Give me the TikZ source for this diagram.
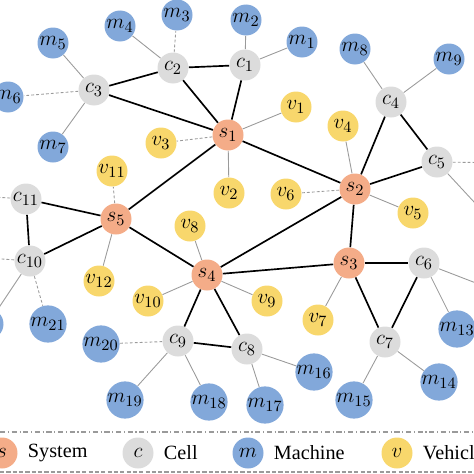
\documentclass[tikz,border=0pt]{standalone}
\usepackage{fontspec}
\setmainfont{Liberation Serif}
\usetikzlibrary{positioning}
\definecolor{sysOrange}{HTML}{F4AC88}
\definecolor{cellGray}{HTML}{DCDCDC}
\definecolor{machBlue}{HTML}{82A8DA}
\definecolor{vehYellow}{HTML}{F8D76C}
\definecolor{netGray}{HTML}{9A9A9A}
\tikzset{
  % Node kinds: one fill per level, no outline.
  net/node/.style={
    circle, draw=none, minimum size=6.2mm, inner sep=0pt,
    font=\fontsize{13}{14}\selectfont
  },
  net/sys/.style={net/node, fill=sysOrange},
  net/cell/.style={net/node, fill=cellGray},
  net/mach/.style={net/node, fill=machBlue},
  net/veh/.style={net/node, fill=vehYellow},
  % Links. Black between systems and cells, thin grey out to the leaves.
  net/link/.style={draw=black, line width=0.95pt},
  net/leaf/.style={draw=netGray, line width=0.5pt},
  net/leafD/.style={net/leaf, dash pattern=on 1.6pt off 1.2pt},
  % Legend text.
  net/key/.style={font=\fontsize{11.5}{13}\selectfont, inner sep=1pt},
}

\begin{document}
\begin{tikzpicture}[x=0.2mm,y=-0.2mm]
  \useasboundingbox (0,0) rectangle (474,474);
  \clip (0,0) rectangle (474,474);
  % systems
  \node[net/sys] (s1) at (228,135) {$s_1$};
  \node[net/sys] (s2) at (355,189) {$s_2$};
  \node[net/sys] (s3) at (349,263) {$s_3$};
  \node[net/sys] (s4) at (207,275) {$s_4$};
  \node[net/sys] (s5) at (116,219) {$s_5$};
  % cells
  \node[net/cell] (c1)  at (245,65)  {$c_1$};
  \node[net/cell] (c2)  at (173,68)  {$c_2$};
  \node[net/cell] (c3)  at (94,90)   {$c_3$};
  \node[net/cell] (c4)  at (391,102) {$c_4$};
  \node[net/cell] (c5)  at (437,162) {$c_5$};
  \node[net/cell] (c6)  at (424,263) {$c_6$};
  \node[net/cell] (c7)  at (385,342) {$c_7$};
  \node[net/cell] (c8)  at (247,349) {$c_8$};
  \node[net/cell] (c9)  at (178,341) {$c_9$};
  \node[net/cell] (c10) at (30,261)  {$c_{10}$};
  \node[net/cell] (c11) at (26,199)  {$c_{11}$};
  % machines
  \node[net/mach] (m1)  at (302,42)  {$m_1$};
  \node[net/mach] (m2)  at (246,20)  {$m_2$};
  \node[net/mach] (m3)  at (177,15)  {$m_3$};
  \node[net/mach] (m4)  at (120,26)  {$m_4$};
  \node[net/mach] (m5)  at (53,43)   {$m_5$};
  \node[net/mach] (m6)  at (8,97)    {$m_6$};
  \node[net/mach] (m7)  at (53,147)  {$m_7$};
  \node[net/mach] (m8)  at (355,49)  {$m_8$};
  \node[net/mach] (m9)  at (449,59)  {$m_9$};
  \node[net/mach] (m13) at (457,329) {$m_{13}$};
  \node[net/mach] (m14) at (439,382) {$m_{14}$};
  \node[net/mach] (m15) at (354,400) {$m_{15}$};
  \node[net/mach] (m16) at (314,372) {$m_{16}$};
  \node[net/mach] (m17) at (265,405) {$m_{17}$};
  \node[net/mach] (m18) at (209,402) {$m_{18}$};
  \node[net/mach] (m19) at (125,400) {$m_{19}$};
  \node[net/mach] (m20) at (101,344) {$m_{20}$};
  \node[net/mach] (m21) at (48,324)  {$m_{21}$};
  \node[net/mach] (m22) at (-12,324) {};
  % vehicles
  \node[net/veh] (v1)  at (296,107) {$v_1$};
  \node[net/veh] (v2)  at (229,193) {$v_2$};
  \node[net/veh] (v3)  at (161,143) {$v_3$};
  \node[net/veh] (v4)  at (343,126) {$v_4$};
  \node[net/veh] (v5)  at (413,213) {$v_5$};
  \node[net/veh] (v6)  at (286,194) {$v_6$};
  \node[net/veh] (v7)  at (318,320) {$v_7$};
  \node[net/veh] (v8)  at (190,226) {$v_8$};
  \node[net/veh] (v9)  at (267,301) {$v_9$};
  \node[net/veh] (v10) at (148,301) {$v_{10}$};
  \node[net/veh] (v11) at (112,171) {$v_{11}$};
  \node[net/veh] (v12) at (99,281)  {$v_{12}$};
  % ends running out of the frame
  \coordinate (x1) at (-40,195);
  \coordinate (x2) at (-40,256);
  \coordinate (x3) at (520,163);
  \coordinate (x4) at (500,230);
  \coordinate (x5) at (520,300);
  % links
  \foreach \a/\b in {c1/c2,c2/c3,c2/s1,c1/s1,c3/s1,s1/s5,s1/s2,s2/c4,s2/c5,c4/c5,
                     s2/s4,s2/s3,s4/s3,s4/s5,s5/c11,s5/c10,c11/c10,s4/c9,s4/c8,
                     c9/c8,s3/c6,s3/c7,c6/c7}
    {\draw[net/link] (\a) -- (\b);}
  \foreach \a/\b in {c3/m5,c3/m7,c2/m4,c1/m1,c1/m2,s1/v1,s1/v2,s2/v4,s2/v5,c4/m8,
                     c4/m9,s4/v8,s4/v10,s4/v9,s5/v12,s3/v7,c9/m19,c9/m18,c8/m16,
                     c8/m17,c6/m13,c7/m14,c7/m15,c10/m22,c5/x4,c6/x5}
    {\draw[net/leaf] (\a) -- (\b);}
  \foreach \a/\b in {c3/m6,c2/m3,s1/v3,s5/v11,s2/v6,c9/m20,c10/m21,c11/x1,c10/x2,c5/x3}
    {\draw[net/leafD] (\a) -- (\b);}
  % legend
  \coordinate (la) at (0,432);  \coordinate (lb) at (474,432);
  \coordinate (lc) at (0,472);  \coordinate (ld) at (474,472);
  \draw[netGray, line width=0.6pt, dash pattern=on 3pt off 1.5pt on 0.6pt off 1.5pt] (la) -- (lb);
  \draw[netGray, line width=1.5pt, dash pattern=on 2.4pt off 1.2pt] (lc) -- (ld);
  \node[net/sys]  (ks) at (2,453)   {$s$};
  \node[net/key, right=1.6mm of ks] (ksT) {System};
  \node[net/cell] (kc) at (138,453) {$c$};
  \node[net/key, right=1.6mm of kc] (kcT) {Cell};
  \node[net/mach] (km) at (248,453) {$m$};
  \node[net/key, right=1.6mm of km] (kmT) {Machine};
  \node[net/veh]  (kv) at (397,453) {$v$};
  \node[net/key, right=1.6mm of kv] (kvT) {Vehicle};
\end{tikzpicture}
\end{document}
